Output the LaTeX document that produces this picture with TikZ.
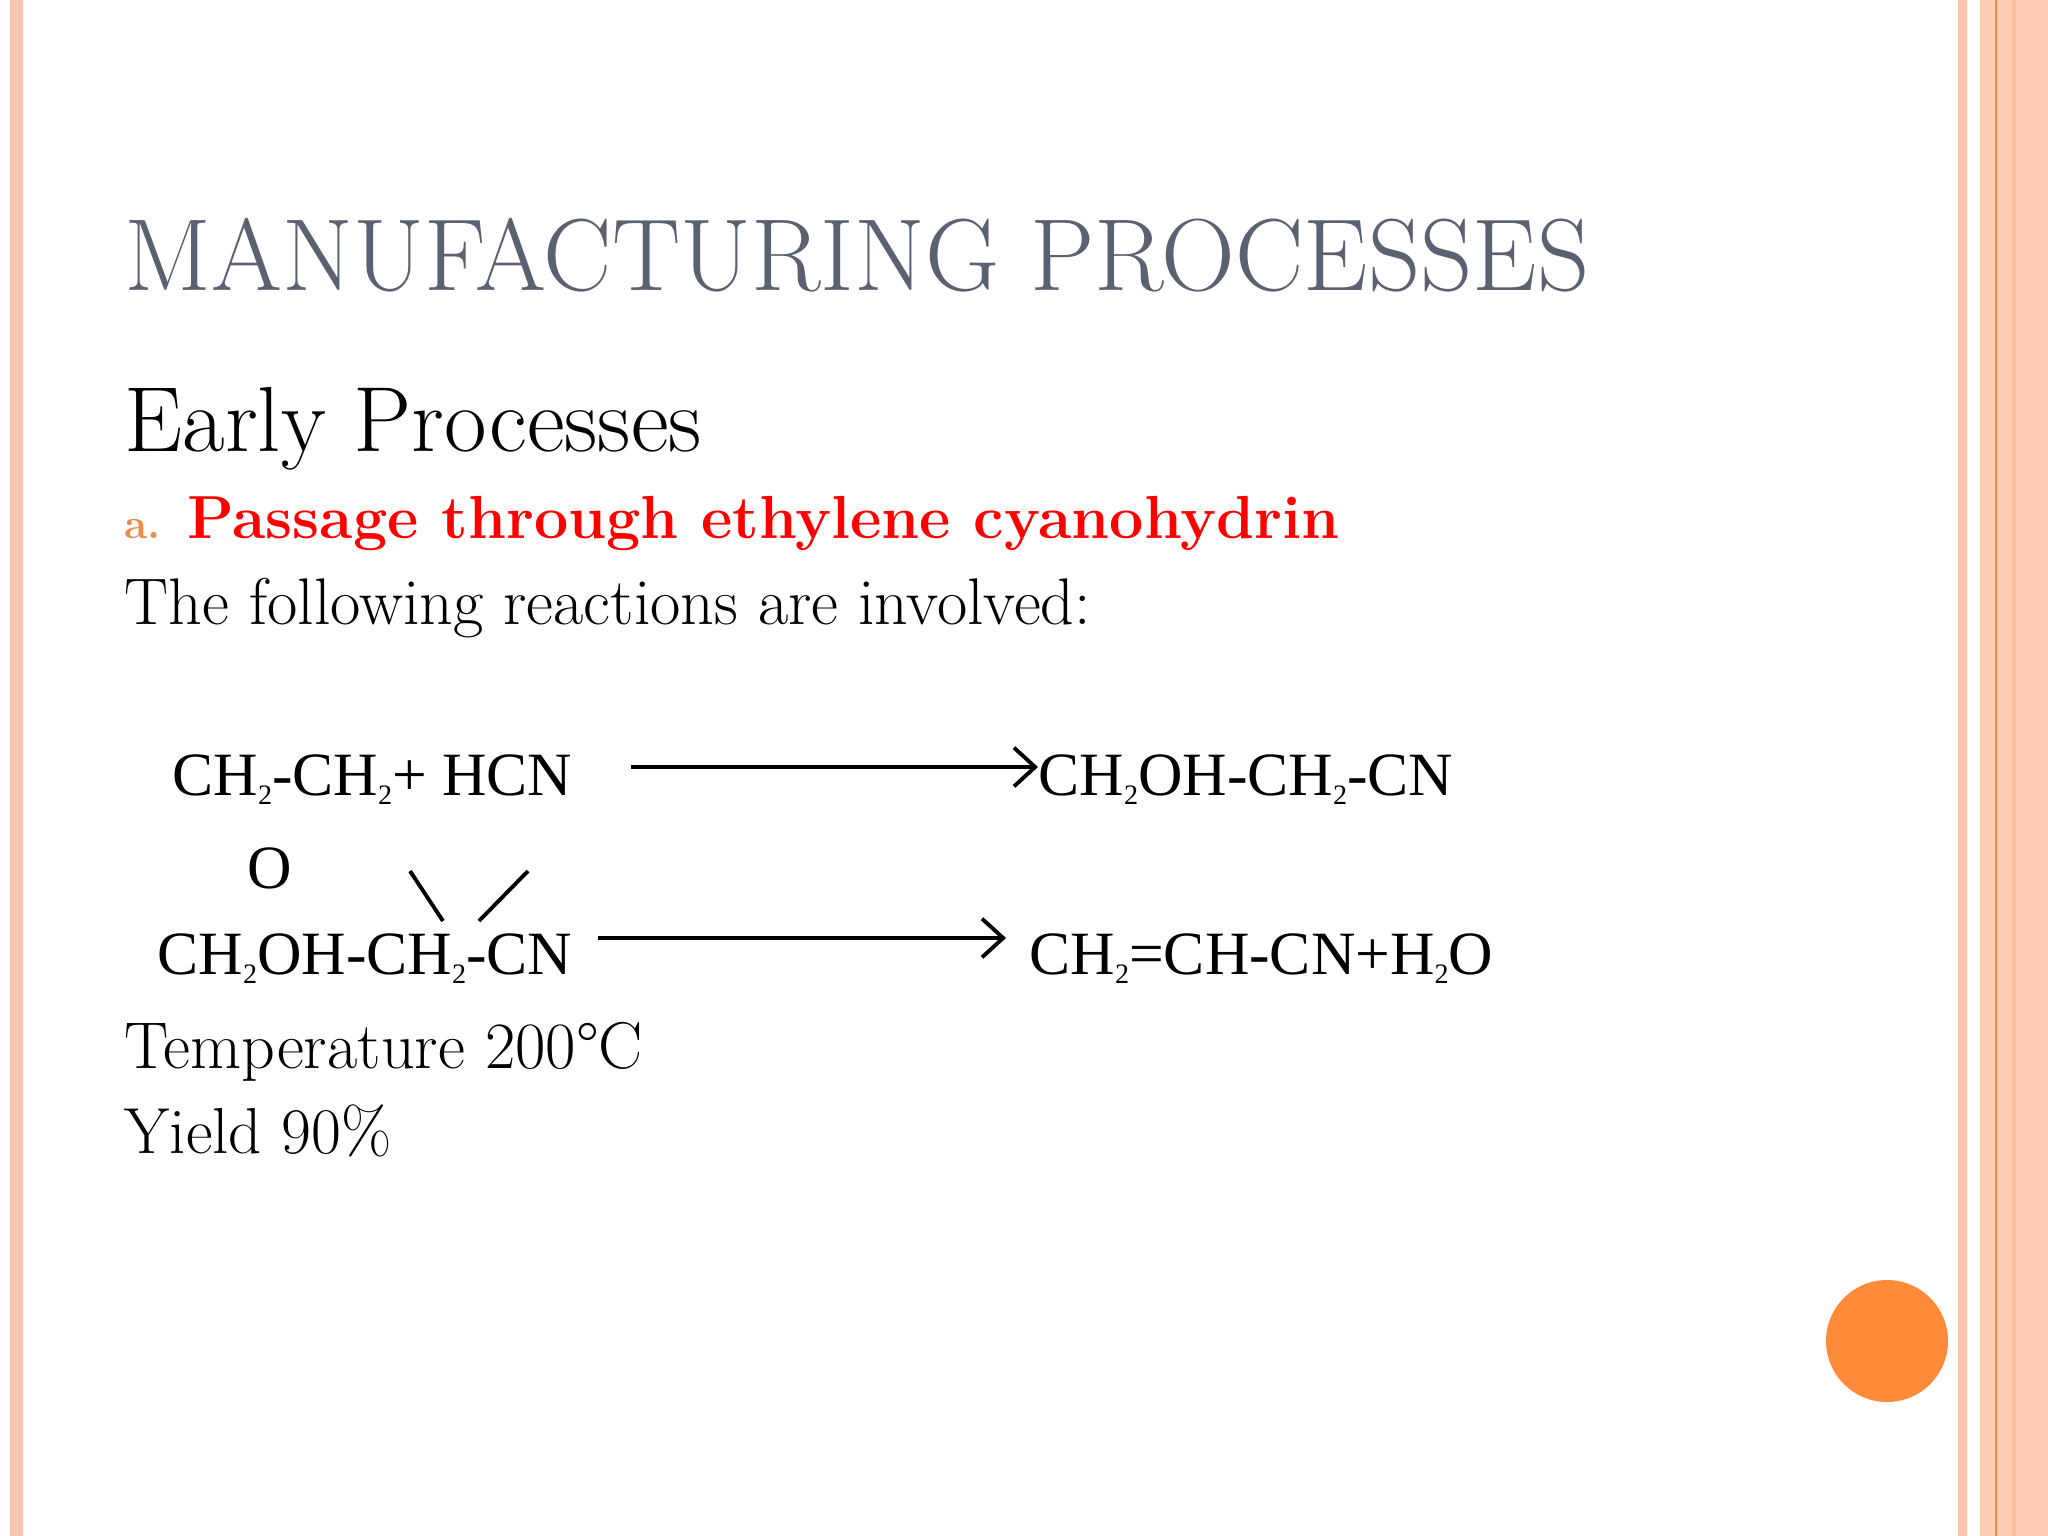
\documentclass[tikz,border=0pt]{standalone}
\usepackage{fontspec}
\usetikzlibrary{arrows.meta}
\newfontfamily\chem{Liberation Serif}
\definecolor{salmon}{HTML}{FBC7B0}
\definecolor{salmonB}{HTML}{FDCDB4}
\definecolor{orangeL}{HTML}{F08A4B}
\definecolor{titlegray}{HTML}{5B6170}
\definecolor{dot}{HTML}{FF8A3A}
\newcommand{\chsub}[1]{\raisebox{-0.35ex}{\fontsize{8pt}{8pt}\selectfont #1}}
\begin{document}
\begin{tikzpicture}[x=0.01cm,y=-0.01cm,
  txt/.style={anchor=base west,inner sep=0pt},
  eq/.style={anchor=base west,inner sep=0pt,font=\chem\fontsize{17.5pt}{20pt}\selectfont},
  arr/.style={-{Straight Barb[length=6pt,width=11pt]},line width=1.1pt}]
\useasboundingbox (0,0) rectangle (2048,1536);
\fill[white] (0,0) rectangle (2048,1536);
\fill[salmon] (10,0) rectangle (23,1536);
\fill[salmon] (1958,0) rectangle (1967,1536);
\fill[salmonB] (1980,0) rectangle (2048,1536);
\fill[salmon!90!orange] (2012,0) rectangle (2016,1536);
\fill[orangeL] (1995,0) rectangle (1997,1536);
\node[txt,text=titlegray,font=\fontsize{29.1pt}{34pt}\selectfont] (title) at (124,290) {MANUFACTURING PROCESSES};
\node[txt,font=\fontsize{26.3pt}{30pt}\selectfont] (early) at (124,451) {Early Processes};
\node[txt,text=orangeL,font=\fontsize{12pt}{14pt}\selectfont\bfseries] (a) at (124,538) {a.};
\node[txt,text=red,font=\fontsize{17.3pt}{20pt}\selectfont\bfseries] (pass) at (187,538) {Passage through ethylene cyanohydrin};
\node[txt,font=\fontsize{18.75pt}{22pt}\selectfont] (foll) at (124,624) {The following reactions are involved:};
\node[eq] (r1) at (172,795) {CH\chsub{2}-CH\chsub{2}+ HCN};
\node[eq] (p1) at (1038,795) {CH\chsub{2}OH-CH\chsub{2}-CN};
\coordinate (a1s) at (631,767); \coordinate (a1e) at (1038,767);
\draw[arr] (a1s) -- (a1e);
\node[eq,anchor=base] (o) at (270,888) {O};
\coordinate (l1a) at (410,871); \coordinate (l1b) at (443,921);
\coordinate (l2a) at (528,871); \coordinate (l2b) at (479,921);
\draw[line width=1.1pt] (l1a) -- (l1b);
\draw[line width=1.1pt] (l2a) -- (l2b);
\node[eq] (r2) at (157,974) {CH\chsub{2}OH-CH\chsub{2}-CN};
\node[eq] (p2) at (1029,974) {CH\chsub{2}=CH-CN+H\chsub{2}O};
\coordinate (a2s) at (598,938); \coordinate (a2e) at (1006,938);
\draw[arr] (a2s) -- (a2e);
\node[txt,font=\fontsize{18.8pt}{22pt}\selectfont] (temp) at (124,1068) {Temperature 200°C};
\node[txt,font=\fontsize{18.5pt}{22pt}\selectfont] (yield) at (124,1153) {Yield 90\%};
\fill[dot] (1887,1341) circle (61);
\end{tikzpicture}
\end{document}
